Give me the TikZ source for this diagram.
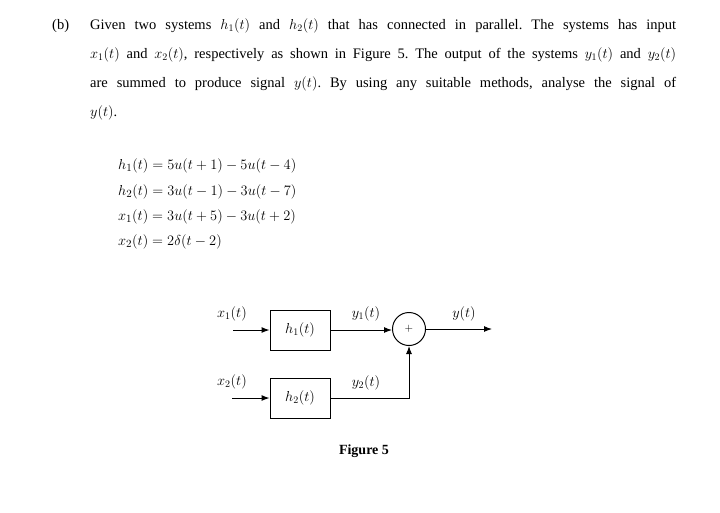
\documentclass[tikz,border=0pt]{standalone}
\usepackage{fontspec}
\setmainfont{Liberation Serif}
\frenchspacing
\usetikzlibrary{arrows.meta}
\begin{document}
\begin{tikzpicture}[x=1pt,y=-1pt,
  txt/.style={anchor=base west,inner sep=0pt,font=\fontsize{14.5}{16}\selectfont},
  eq/.style={anchor=base west,inner sep=0pt,font=\fontsize{15}{17}\selectfont},
  lab/.style={inner sep=0pt,font=\fontsize{14}{16}\selectfont},
  blk/.style={draw,line width=1pt,minimum width=60pt,minimum height=40pt,font=\fontsize{14}{16}\selectfont},
  sig/.style={line width=1pt,-{Latex[length=8pt,width=6pt]}}]
\useasboundingbox (0,0) rectangle (720,512);
\node[txt] (b) at (52,29) {(b)};
\node[txt] (l1) at (90,29) {\makebox[586pt][s]{Given two systems $h_1(t)$ and $h_2(t)$ that has connected in parallel. The systems has input}};
\node[txt] (l2) at (90,58) {\makebox[586pt][s]{$x_1(t)$ and $x_2(t)$, respectively as shown in Figure 5. The output of the systems $y_1(t)$ and $y_2(t)$}};
\node[txt] (l3) at (90,87) {\makebox[586pt][s]{are summed to produce signal $y(t)$. By using any suitable methods, analyse the signal of}};
\node[txt] (l4) at (90,116) {$y(t)$.};
\node[eq] (e1) at (118,169) {$h_1(t)=5u(t+1)-5u(t-4)$};
\node[eq] (e2) at (118,195) {$h_2(t)=3u(t-1)-3u(t-7)$};
\node[eq] (e3) at (118,220) {$x_1(t)=3u(t+5)-3u(t+2)$};
\node[eq] (e4) at (118,245) {$x_2(t)=2\delta(t-2)$};
\node[blk] (h1) at (300,330) {$h_1(t)$};
\node[blk] (h2) at (300,398) {$h_2(t)$};
\node[draw,circle,line width=1pt,minimum size=33pt,inner sep=0pt,font=\fontsize{11}{12}\selectfont] (s) at (409,329) {$+$};
\coordinate (x1) at (233,330);
\coordinate (x2) at (232,398);
\coordinate (c) at (409,398);
\coordinate (yo) at (492,329);
\draw[sig] (x1) -- (h1.west);
\draw[sig] (x2) -- (h2.west);
\draw[sig] (h1.east) -- (s.west|-h1.east);
\draw[sig] (h2.east) -- (c) -- (s.south);
\draw[sig] (s.east) -- (yo);
\node[lab] (lx1) at (232,314) {$x_1(t)$};
\node[lab] (lx2) at (232,382) {$x_2(t)$};
\node[lab] (ly1) at (366,314) {$y_1(t)$};
\node[lab] (ly2) at (366,383) {$y_2(t)$};
\node[lab] (ly) at (464,314) {$y(t)$};
\node[inner sep=0pt,font=\fontsize{14}{16}\selectfont\bfseries] (f) at (364,451) {Figure 5};
\end{tikzpicture}
\end{document}
